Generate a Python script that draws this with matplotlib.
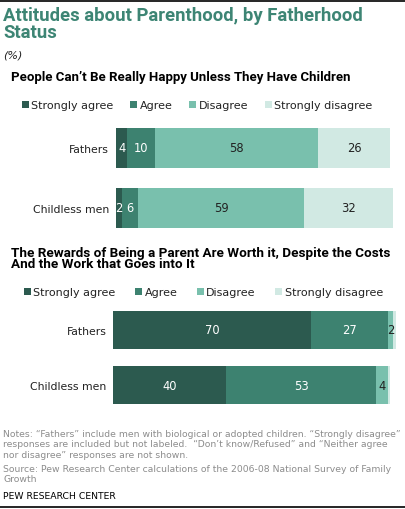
import matplotlib
matplotlib.use("Agg")
import matplotlib.pyplot as plt
from matplotlib.patches import Patch
from matplotlib.lines import Line2D

W, H = 405, 510
DPI = 100

categories = ["Fathers", "Childless men"]
responses = ["Strongly agree", "Agree", "Disagree", "Strongly disagree"]
colors = ["#2c5a4f", "#3d8270", "#79c0ad", "#d1e9e3"]
label_colors = ["white", "white", "#222222", "#222222"]

# Chart 1: People can't be really happy unless they have children
happy_values = {
    "Strongly agree": [4, 2],
    "Agree": [10, 6],
    "Disagree": [58, 59],
    "Strongly disagree": [26, 32],
}
happy_show = {"Strongly agree": True, "Agree": True, "Disagree": True, "Strongly disagree": True}

# Chart 2: Rewards of being a parent are worth it
rewards_values = {
    "Strongly agree": [70, 40],
    "Agree": [27, 53],
    "Disagree": [2, 4],
    "Strongly disagree": [1, 1],
}
rewards_show = {"Strongly agree": True, "Agree": True, "Disagree": True, "Strongly disagree": False}

plt.rcParams['font.family'] = ['DejaVu Sans']
HEAD = ['Roboto', 'DejaVu Sans']
fig = plt.figure(figsize=(W / DPI, H / DPI), dpi=DPI)
renderer = fig.canvas.get_renderer()


def fx(px):
    return px / W


def fy(py):
    return 1 - py / H


def fit_text(x, y, s, width_px, size, **kw):
    t = fig.text(fx(x), fy(y), s, fontsize=size, va='baseline', ha='left', **kw)
    w = t.get_window_extent(renderer=renderer).width
    t.set_fontsize(size * width_px / w)
    return t


def axes_px(left, top, right, bottom):
    return fig.add_axes([fx(left), fy(bottom), (right - left) / W, (bottom - top) / H])


def draw_chart(ax, values, show, height, pad):
    left = [0] * len(categories)
    ypos = list(range(len(categories)))
    for r, c, lc in zip(responses, colors, label_colors):
        vals = values[r]
        ax.barh(ypos, vals, left=left, height=height, color=c, edgecolor='none')
        if show[r]:
            for i, v in enumerate(vals):
                cx = left[i] + v / 2
                ax.text(cx, ypos[i], f"{v}", ha='center', va='center',
                        fontsize=8.3, color=lc)
        left = [a + b for a, b in zip(left, vals)]
    ax.set_xlim(0, 100)
    ax.set_ylim(len(categories) - 0.5, -0.5)
    ax.set_yticks(ypos)
    ax.set_yticklabels(categories, fontsize=7.8, color='#222222')
    ax.tick_params(axis='y', length=0, pad=pad)
    ax.set_xticks([])
    for s in ax.spines.values():
        s.set_visible(False)
    ax.patch.set_alpha(0)


def draw_legend(y_center, x_left, spacing):
    handles = [Patch(facecolor=c, edgecolor='none') for c in colors]
    leg = fig.legend(handles, responses, loc='center left',
                     bbox_to_anchor=(fx(x_left), fy(y_center)), ncol=4,
                     frameon=False, fontsize=8.0, handlelength=0.6, handleheight=0.6,
                     handletextpad=0.25, columnspacing=spacing, borderaxespad=0, borderpad=0)
    for t in leg.get_texts():
        t.set_color('#222222')
    return leg


# Top and bottom rules
fig.add_artist(Line2D([0, 1], [fy(1.5), fy(1.5)], color='black', lw=1.2))
fig.add_artist(Line2D([0, 1], [fy(508), fy(508)], color='black', lw=1.2))

title_color = '#3d8574'
t1 = fit_text(3, 21, "Attitudes about Parenthood, by Fatherhood", 359, 12,
              fontweight='bold', color=title_color, family=HEAD)
fig.text(fx(3), fy(38.5), "Status", fontsize=t1.get_fontsize(), fontweight='bold',
         color=title_color, va='baseline', ha='left', family=HEAD)
fig.text(fx(3), fy(58), "(%)", fontsize=8, style='italic', color='#222222',
         va='baseline', ha='left')

fit_text(11, 80.5, "People Can\u2019t Be Really Happy Unless They Have Children", 341, 8,
         fontweight='bold', color='black', family=HEAD)
draw_legend(106, 22, 1.5)

ax1 = axes_px(116, 119, 396, 238.5)
draw_chart(ax1, happy_values, happy_show, 40 / 59.5, 5)

s2 = fit_text(11, 256.5, "The Rewards of Being a Parent Are Worth it, Despite the Costs", 378, 8,
              fontweight='bold', color='black', family=HEAD)
fig.text(fx(11), fy(268.5), "And the Work that Goes into It",
         fontsize=s2.get_fontsize(), fontweight='bold', color='black', va='baseline',
         ha='left', family=HEAD)
draw_legend(293, 24, 1.75)

ax2 = axes_px(113, 303.5, 396, 413.5)
draw_chart(ax2, rewards_values, rewards_show, 38 / 55, 4.5)

note_color = '#8c8c8c'
notes = [
    "Notes: \u201cFathers\u201d include men with biological or adopted children. \u201cStrongly disagree\u201d",
    "responses are included but not labeled.  \u201cDon\u2019t know/Refused\u201d and \u201cNeither agree",
    "nor disagree\u201d responses are not shown.",
]
n1 = fit_text(3, 437, notes[0], 399, 7, color=note_color)
nsize = n1.get_fontsize()
for i, line in enumerate(notes[1:], start=1):
    fig.text(fx(3), fy(437 + 10.3 * i), line, fontsize=nsize, color=note_color,
             va='baseline', ha='left')
fig.text(fx(3), fy(472), "Source: Pew Research Center calculations of the 2006-08 National Survey of Family",
         fontsize=nsize, color=note_color, va='baseline', ha='left')
fig.text(fx(3), fy(482.3), "Growth", fontsize=nsize, color=note_color, va='baseline', ha='left')
fit_text(3, 499, "PEW RESEARCH CENTER", 114, 7, color='black')

fig.savefig("out.png", dpi=DPI)
